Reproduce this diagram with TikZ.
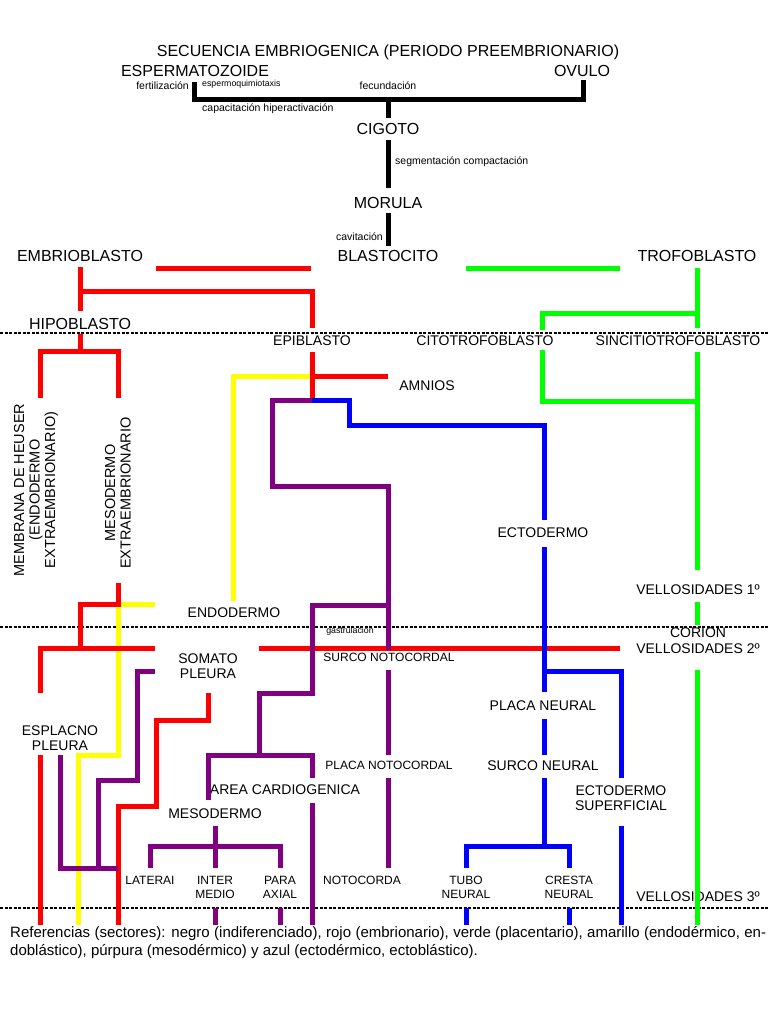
\documentclass[tikz,border=0pt]{standalone}
\usepackage{fontspec}
\setmainfont{Liberation Sans}
\usetikzlibrary{positioning}
\definecolor{rojo}{HTML}{FF0000}
\definecolor{verde}{HTML}{00FF00}
\definecolor{azul}{HTML}{0000FF}
\definecolor{amarillo}{HTML}{FFFF00}
\definecolor{purpura}{HTML}{800080}
\tikzset{%
  lbl/.style={font=\fontsize{16}{16}\selectfont, inner sep=0pt, align=center},
  sml/.style={font=\fontsize{10.5}{12}\selectfont, inner sep=0pt},
  tny/.style={font=\fontsize{8.8}{10}\selectfont, inner sep=0pt},
  br/.style={line width=5pt, draw=#1},
  sep/.style={line width=1.3pt, dash pattern=on 3pt off 1.5pt}
}
\begin{document}
\begin{tikzpicture}[x=1pt, y=-1pt]
	\useasboundingbox (0,0) rectangle (768,1024);
	% separators
	\foreach \yy in {333,627,908}
		\draw [sep] (0,\yy) -- (768,\yy);
	% black
	\node [lbl] (title) at (388,52) {SECUENCIA EMBRIOGENICA (PERIODO PREEMBRIONARIO)};
	\node [lbl] (esperm) at (195,71) {ESPERMATOZOIDE};
	\node [lbl] (ovulo) at (582,71) {OVULO};
	\node [sml, anchor=east] (fert) at (189,86) {fertilización};
	\node [tny, anchor=west] (quimio) at (202,84) {espermoquimiotaxis};
	\node [sml] (fecun) at (388,86) {fecundación};
	\node [sml, anchor=west] (capac) at (202,109) {capacitación hiperactivación};
	\node [lbl] (cigoto) at (388,129) {CIGOTO};
	\node [sml, anchor=west] (segm) at (395,162) {segmentación compactación};
	\node [lbl] (morula) at (388,203) {MORULA};
	\node [sml, anchor=east] (cavit) at (383,237) {cavitación};
	\node [lbl] (blasto) at (388,256) {BLASTOCITO};
	\draw [br=black] (194,82) -- (194,100) -- (583,100) -- (583,80);
	\draw [br=black] (388,100) -- (388,118);
	\draw [br=black] (388,140) -- (388,188);
	\draw [br=black] (388,213) -- (388,246);
	% labels
	\node [lbl] (embrio) at (80,256) {EMBRIOBLASTO};
	\node [lbl] (trofo) at (697,256) {TROFOBLASTO};
	\node [lbl] (hipo) at (80,324) {HIPOBLASTO};
	\node [sml, font=\fontsize{14}{14}\selectfont] (epi) at (312,341) {EPIBLASTO};
	\node [sml, font=\fontsize{14}{14}\selectfont] (cito) at (485,341) {CITOTROFOBLASTO};
	\node [sml, font=\fontsize{14}{14}\selectfont] (sinci) at (678,341) {SINCITIOTROFOBLASTO};
	\node [lbl, font=\fontsize{14}{14}\selectfont] (amnios) at (427,386) {AMNIOS};
	\node [lbl, rotate=90, font=\fontsize{14.5}{15.5}\selectfont] (heuser) at (36,490) {MEMBRANA DE HEUSER\\(ENDODERMO\\EXTRAEMBRIONARIO)};
	\node [lbl, rotate=90, font=\fontsize{14.5}{15.5}\selectfont] (mesoext) at (118,493) {MESODERMO\\EXTRAEMBRIONARIO};
	\node [lbl, font=\fontsize{14}{14}\selectfont] (ecto) at (543,533) {ECTODERMO};
	\node [lbl, font=\fontsize{14}{14}\selectfont] (vell1) at (698,590) {VELLOSIDADES 1º};
	\node [lbl, font=\fontsize{14}{14}\selectfont] (endo) at (234,613) {ENDODERMO};
	\node [tny] (gastr) at (350,631) {gastrulación};
	\node [lbl, font=\fontsize{14}{14}\selectfont] (corion) at (698,633) {CORION};
	\node [lbl, font=\fontsize{14}{14}\selectfont] (vell2) at (698,649) {VELLOSIDADES 2º};
	\node [lbl, font=\fontsize{14}{15.5}\selectfont] (somato) at (208,666) {SOMATO\\PLEURA};
	\node [sml, font=\fontsize{12}{12}\selectfont] (surconot) at (389,657) {SURCO NOTOCORDAL};
	\node [lbl, font=\fontsize{14}{14}\selectfont] (placaneu) at (543,706) {PLACA NEURAL};
	\node [lbl, font=\fontsize{14}{15.5}\selectfont] (esplac) at (60,738) {ESPLACNO\\PLEURA};
	\node [sml, font=\fontsize{12}{12}\selectfont] (placanot) at (389,765) {PLACA NOTOCORDAL};
	\node [lbl, font=\fontsize{14}{14}\selectfont] (surconeu) at (543,766) {SURCO NEURAL};
	\node [lbl, font=\fontsize{14}{14}\selectfont] (area) at (285,790) {AREA CARDIOGENICA};
	\node [lbl, font=\fontsize{14}{15.5}\selectfont] (ectosup) at (621,798) {ECTODERMO\\SUPERFICIAL};
	\node [lbl, font=\fontsize{14}{14}\selectfont] (meso) at (215,814) {MESODERMO};
	\node [sml, font=\fontsize{12}{12}\selectfont] (lateral) at (150,880) {LATERAI};
	\node [lbl, font=\fontsize{12}{14}\selectfont] (inter) at (215,887) {INTER\\MEDIO};
	\node [lbl, font=\fontsize{12}{14}\selectfont] (para) at (280,887) {PARA\\AXIAL};
	\node [sml, font=\fontsize{12}{12}\selectfont] (notoc) at (362,880) {NOTOCORDA};
	\node [lbl, font=\fontsize{12}{14}\selectfont] (tubo) at (466,887) {TUBO\\NEURAL};
	\node [lbl, font=\fontsize{12}{14}\selectfont] (cresta) at (569,887) {CRESTA\\NEURAL};
	\node [lbl, font=\fontsize{14}{14}\selectfont] (vell3) at (698,897) {VELLOSIDADES 3º};
	% yellow
	\draw [br=amarillo] (312,376) -- (233,376) -- (233,601);
	\draw [br=amarillo] (155,604) -- (118,604) -- (118,755) -- (78,755) -- (78,925);
	% red
	\draw [br=rojo] (156,268) -- (311,268);
	\draw [br=rojo] (80,267) -- (80,311);
	\draw [br=rojo] (80,291) -- (312,291) -- (312,328);
	\draw [br=rojo] (312,352) -- (312,400);
	\draw [br=rojo] (312,376) -- (388,376);
	\draw [br=rojo] (80,334) -- (80,351);
	\draw [br=rojo] (40,398) -- (40,351) -- (118,351) -- (118,398);
	\draw [br=rojo] (118,583) -- (118,604) -- (80,604) -- (80,648);
	\draw [br=rojo] (155,648) -- (40,648) -- (40,693);
	\draw [br=rojo] (40,755) -- (40,925);
	\draw [br=rojo] (259,648) -- (620,648);
	\draw [br=rojo] (208,693) -- (208,720) -- (156,720) -- (156,806) -- (118,806) -- (118,925);
	% purple
	\draw [br=purpura] (312,400) -- (272,400) -- (272,486) -- (388,486) -- (388,650);
	\draw [br=purpura] (388,605) -- (312,605) -- (312,693) -- (259,693) -- (259,755);
	\draw [br=purpura] (388,670) -- (388,755);
	\draw [br=purpura] (388,778) -- (388,868);
	\draw [br=purpura] (208,800) -- (208,755) -- (312,755) -- (312,778);
	\draw [br=purpura] (312,803) -- (312,925);
	\draw [br=purpura] (155,671) -- (137,671) -- (137,780) -- (98,780) -- (98,868);
	\draw [br=purpura] (60,755) -- (60,868) -- (118,868);
	\draw [br=purpura] (215,826) -- (215,868);
	\draw [br=purpura] (150,868) -- (150,846) -- (280,846) -- (280,868);
	\draw [br=purpura] (215,908) -- (215,925);
	\draw [br=purpura] (280,908) -- (280,925);
	% blue
	\draw [br=azul] (312,400) -- (349,400) -- (349,425) -- (544,425) -- (544,520);
	\draw [br=azul] (544,547) -- (544,692);
	\draw [br=azul] (544,671) -- (621,671) -- (621,778);
	\draw [br=azul] (621,826) -- (621,925);
	\draw [br=azul] (544,719) -- (544,755);
	\draw [br=azul] (544,778) -- (544,846);
	\draw [br=azul] (466,868) -- (466,846) -- (569,846) -- (569,868);
	\draw [br=azul] (466,908) -- (466,925);
	\draw [br=azul] (569,908) -- (569,925);
	% green
	\draw [br=verde] (466,268) -- (620,268);
	\draw [br=verde] (697,268) -- (697,328);
	\draw [br=verde] (697,313) -- (542,313) -- (542,330);
	\draw [br=verde] (542,350) -- (542,401) -- (697,401);
	\draw [br=verde] (697,352) -- (697,570);
	\draw [br=verde] (697,602) -- (697,625);
	\draw [br=verde] (697,670) -- (697,925);
	% referencias
	\node [anchor=north west, inner sep=0pt, text width=756pt, align=justify, font=\fontsize{15}{18}\selectfont] (refs) at (10,926)
		{Referencias (sectores): negro (indiferenciado), rojo (embrionario), verde (placentario), amarillo (endodérmico, endoblástico), púrpura (mesodérmico) y azul (ectodérmico, ectoblástico).};
\end{tikzpicture}
\end{document}
